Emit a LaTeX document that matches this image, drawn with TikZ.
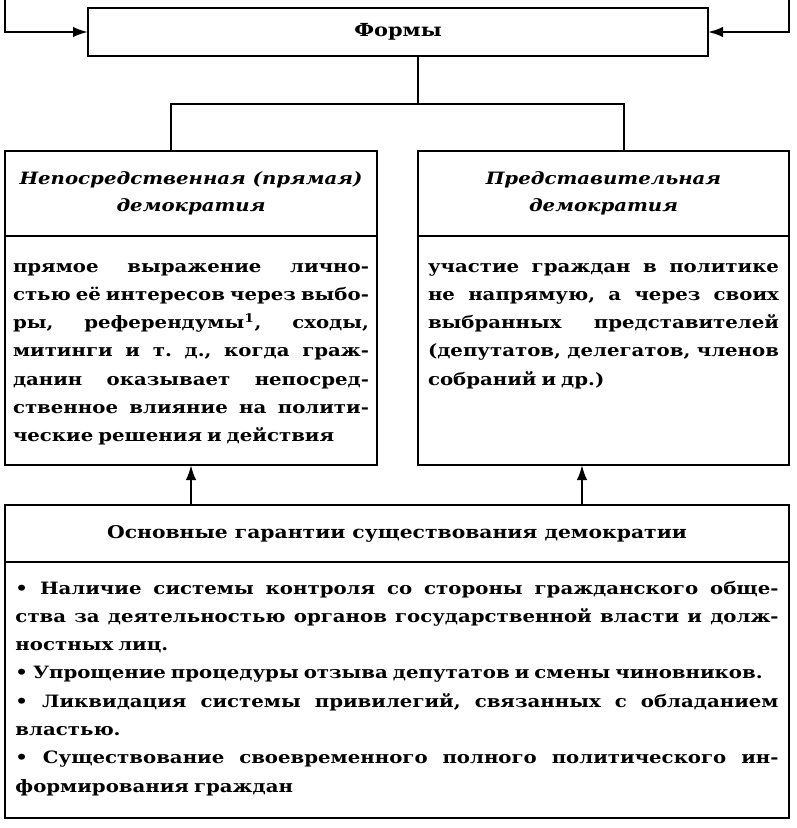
\documentclass[tikz,border=0pt]{standalone}
\usepackage{fontspec}
\setmainfont{DejaVu Serif}[FakeStretch=1.16]
\usetikzlibrary{positioning,arrows.meta}
\frenchspacing
\tikzstyle{arrow} = [line width=2.2pt,-{Latex[length=15pt,width=10.5pt]}]
\tikzstyle{line} = [line width=2.2pt]
\tikzstyle{box} = [draw,line width=2.2pt,rectangle,inner sep=0pt,outer sep=0pt,font=\fontsize{17}{28.3}\selectfont\bfseries]
\tikzstyle{head} = [box,align=center,font=\fontsize{17}{26.5}\selectfont\bfseries\itshape]
\newcommand{\bodytext}[4]{\parbox[c][#2][t]{#1}{\spaceskip=5pt plus 15pt minus 1.5pt\rule{0pt}{#3}#4}}

\begin{document}
\begin{tikzpicture}[x=1pt,y=-1pt]
\useasboundingbox (0,0) rectangle (796,828);

\node[box,minimum width=620pt,minimum height=48pt,font=\fontsize{18}{20}\selectfont\bfseries] (formy) at (398,32) {Формы};

\node[head,minimum width=372pt,minimum height=85pt] (lefthead) at (191,193.5) {Непосредственная (прямая)\\демократия};
\node[box,minimum width=372pt,below=0pt of lefthead] (leftbody) {\bodytext{356pt}{229pt}{36pt}{прямое выражение лично-\linebreak
стью её интересов через выбо-\linebreak
ры, референдумы\textsuperscript{1}, сходы,\linebreak
митинги и т. д., когда граж-\linebreak
данин оказывает непосред-\linebreak
ственное влияние на полити-\linebreak
ческие решения и действия}};

\node[head,minimum width=371pt,minimum height=85pt] (righthead) at (603.5,193.5) {Представительная\\демократия};
\node[box,minimum width=371pt,below=0pt of righthead] (rightbody) {\bodytext{351pt}{229pt}{36pt}{участие граждан в политике\linebreak
не напрямую, а через своих\linebreak
выбранных представителей\linebreak
(депутатов, делегатов, членов\linebreak
собраний и др.)}};

\node[box,minimum width=784pt,minimum height=57pt,font=\fontsize{17.5}{20}\selectfont\bfseries] (guarhead) at (397,533.5) {Основные гарантии существования демократии};
\node[box,minimum width=784pt,below=0pt of guarhead] (guarbody) {\bodytext{763pt}{256pt}{32pt}{• Наличие системы контроля со стороны гражданского обще-\linebreak
ства за деятельностью органов государственной власти и долж-\linebreak
ностных лиц.\par
• Упрощение процедуры отзыва депутатов и смены чиновников.\par
• Ликвидация системы привилегий, связанных с обладанием\linebreak
властью.\par
• Существование своевременного полного политического ин-\linebreak
формирования граждан}};

% входы сверху
\coordinate (tl) at (5,0);
\coordinate (tr) at (789,0);
\draw[arrow] (tl) |- (formy.west);
\draw[arrow] (tr) |- (formy.east);

% разветвление
\coordinate (stem) at (418,104);
\coordinate (forkL) at (171,104);
\coordinate (forkR) at (624,104);
\draw[line] (stem |- formy.south) -- (stem);
\draw[line] (forkL |- lefthead.north) -- (forkL) -- (forkR) -- (forkR |- righthead.north);

% гарантии
\coordinate (upR) at (582,0);
\draw[arrow] (guarhead.north -| leftbody.south) -- (leftbody.south);
\draw[arrow] (upR |- guarhead.north) -- (upR |- rightbody.south);
\end{tikzpicture}
\end{document}
